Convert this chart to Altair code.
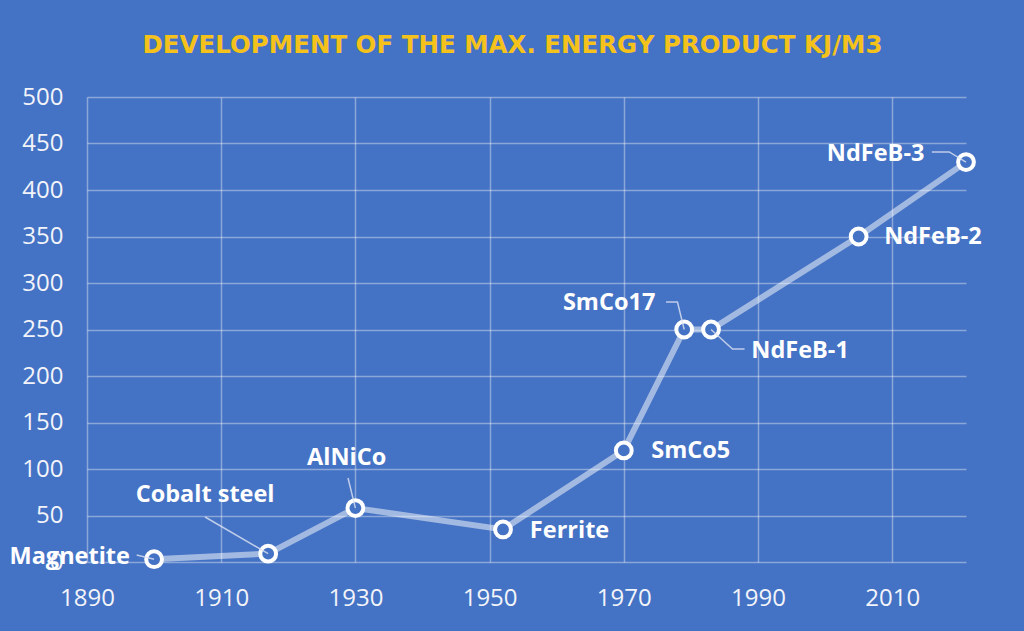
import altair as alt
import pandas as pd

# Magnet materials: year of introduction and max. energy product (kJ/m3)
materials = ["Magnetite", "Cobalt steel", "AlNiCo", "Ferrite", "SmCo5",
             "SmCo17", "NdFeB-1", "NdFeB-2", "NdFeB-3"]
years = [1900, 1917, 1930, 1952, 1970, 1979, 1983, 2005, 2021]
energy = [3, 9, 58, 35, 120, 250, 250, 350, 430]

# Label anchors (data units) and text alignment
label_years = [1896.4, 1907.6, 1928.7, 1956.0, 1974.1, 1974.7, 1989.0, 2008.8, 2014.8]
label_values = [5.4, 72, 112, 33.3, 119.4, 278.5, 226.9, 349.5, 438.7]
label_align = ["right", "center", "center", "left", "left", "right", "left", "left", "right"]

# Leader lines from label to point (polyline vertices, data units)
leader_name = ["Magnetite", "Magnetite",
               "Cobalt steel", "Cobalt steel",
               "AlNiCo", "AlNiCo",
               "SmCo17", "SmCo17", "SmCo17",
               "NdFeB-1", "NdFeB-1", "NdFeB-1",
               "NdFeB-3", "NdFeB-3", "NdFeB-3"]
leader_year = [1897.4, 1900,
               1907.6, 1917,
               1928.9, 1930,
               1976.3, 1978.0, 1979,
               1983, 1986.2, 1988.0,
               2015.9, 2018.5, 2021]
leader_value = [7.5, 3,
                48.4, 9,
                90.3, 58,
                279.6, 279.6, 250,
                250, 229, 229,
                440.9, 440.9, 430]
leader_order = [0, 1, 0, 1, 0, 1, 0, 1, 2, 0, 1, 2, 0, 1, 2]

x_ticks = [1890, 1910, 1930, 1950, 1970, 1990, 2010]
y_ticks = [0, 50, 100, 150, 200, 250, 300, 350, 400, 450, 500]

BG = "#4472C4"
FONT = "Open Sans"

points = pd.DataFrame({"material": materials, "year": years, "energy": energy})
labels = pd.DataFrame({"material": materials, "lx": label_years,
                       "ly": label_values, "align": label_align})
leaders = pd.DataFrame({"material": leader_name, "year": leader_year,
                        "energy": leader_value, "order": leader_order})

x_scale = alt.Scale(domain=[1890, 2021], nice=False, zero=False)
y_scale = alt.Scale(domain=[0, 500], nice=False)

x_axis = alt.Axis(values=x_ticks, format="d", title=None, grid=True,
                  gridColor="#FFFFFF", gridOpacity=0.38, gridWidth=1.5,
                  domain=False, ticks=False, labelPadding=24, labelFlush=False,
                  labelFont=FONT, labelFontSize=24, labelColor="#F2F4FA")
y_axis = alt.Axis(values=y_ticks, title=None, grid=True,
                  gridColor="#FFFFFF", gridOpacity=0.38, gridWidth=1.5,
                  domain=False, ticks=False, labelPadding=24, labelFlush=False,
                  labelFont=FONT, labelFontSize=24, labelColor="#F2F4FA")

base = alt.Chart(points)

line = base.mark_line(color="#FFFFFF", opacity=0.5, strokeWidth=6).encode(
    x=alt.X("year:Q", scale=x_scale, axis=x_axis),
    y=alt.Y("energy:Q", scale=y_scale, axis=y_axis),
)

dots = base.mark_point(shape="circle", filled=False, fill=BG, fillOpacity=1,
                       stroke="#FFFFFF", strokeWidth=4, size=250, opacity=1).encode(
    x=alt.X("year:Q", scale=x_scale),
    y=alt.Y("energy:Q", scale=y_scale),
)

leader_lines = alt.Chart(leaders).mark_line(
    color="#DDE4F2", opacity=0.8, strokeWidth=1.5).encode(
    x=alt.X("year:Q", scale=x_scale),
    y=alt.Y("energy:Q", scale=y_scale),
    detail="material:N",
    order="order:Q",
)


def label_layer(align):
    return alt.Chart(labels).transform_filter(
        alt.datum.align == align
    ).mark_text(align=align, baseline="middle", font=FONT, fontSize=23.5,
                fontWeight="bold", color="#FFFFFF").encode(
        x=alt.X("lx:Q", scale=x_scale),
        y=alt.Y("ly:Q", scale=y_scale),
        text="material:N",
    )


chart = alt.layer(
    line, dots, leader_lines,
    label_layer("left"), label_layer("right"), label_layer("center"),
).properties(
    width=879,
    height=465,
    autosize=alt.AutoSizeParams(type="none"),
    padding={"left": 87, "top": 97, "right": 58, "bottom": 69},
    background=BG,
    title=alt.TitleParams(
        "DEVELOPMENT OF THE MAX. ENERGY PRODUCT KJ/M3",
        font="DejaVu Sans", fontSize=24.5, fontWeight="bold", color="#F5C21B",
        anchor="middle", dx=-14, offset=27,
    ),
).configure_view(stroke=None)

chart.save("out.html", embed_options={"renderer": "svg", "actions": False})
